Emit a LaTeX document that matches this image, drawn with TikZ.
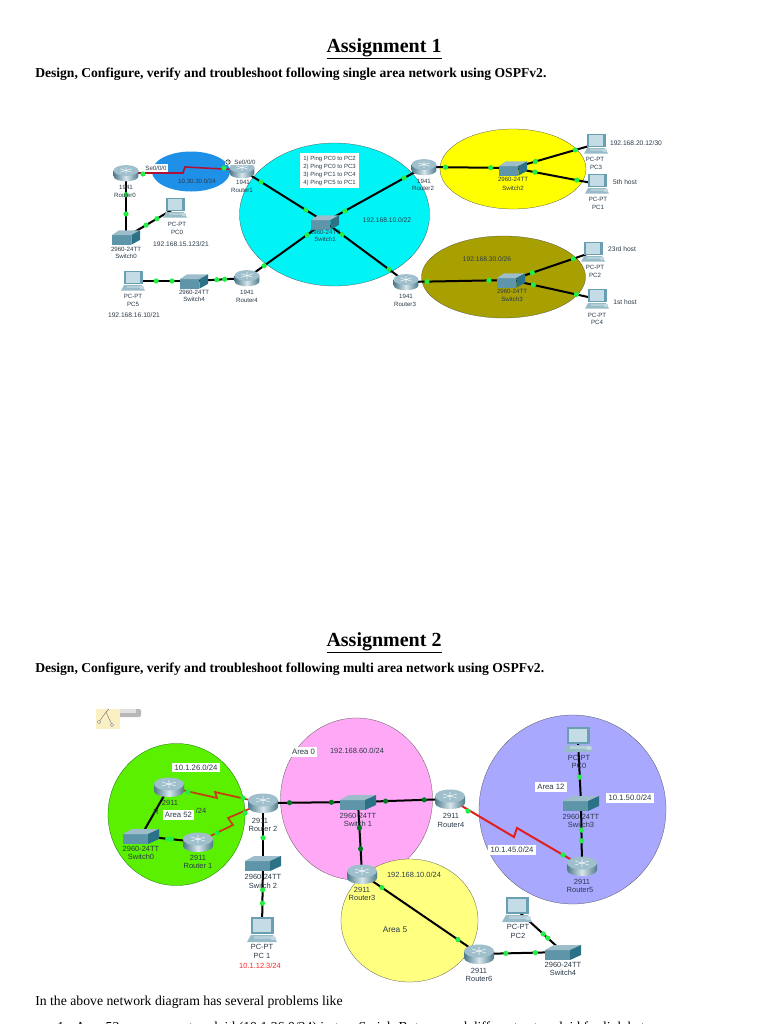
\documentclass[tikz,border=0pt]{standalone}
\usepackage{fontspec}
\setmainfont{Liberation Serif}
\setsansfont{Liberation Sans}
\definecolor{txtc}{HTML}{2B3A48}
\definecolor{rtop}{HTML}{9FBFCC}
\definecolor{rside}{HTML}{4E7A8B}
\definecolor{rmid}{HTML}{D6E6EB}
\definecolor{swtop}{HTML}{9CBDC9}
\definecolor{swfront}{HTML}{5F95A8}
\definecolor{swside}{HTML}{2C7287}
\definecolor{pcscr}{HTML}{C3DCE6}
\definecolor{pcfr}{HTML}{6A9FB1}
\definecolor{lnkdot}{HTML}{22EE44}
\definecolor{dkdotc}{HTML}{007A22}
\definecolor{cCyan}{HTML}{00F4F6}
\definecolor{cYellow}{HTML}{FFFF00}
\definecolor{cOlive}{HTML}{A8A000}
\definecolor{cSky}{HTML}{1E90E8}
\definecolor{cGreen}{HTML}{5BEF00}
\definecolor{cPink}{HTML}{FFA8F6}
\definecolor{cLilac}{HTML}{A8A8FF}
\definecolor{cPale}{HTML}{FFFF80}
\definecolor{cTan}{HTML}{FBEFC4}
\definecolor{serA}{HTML}{B01038}
\definecolor{serB}{HTML}{CC3A10}
\definecolor{serC}{HTML}{E02020}
\tikzset{
  netlink/.style={draw=black,line width=1.5pt},
  dot/.style={circle,fill=lnkdot,inner sep=0pt,minimum size=3.9pt},
  dkdot/.style={circle,fill=dkdotc,inner sep=0pt,minimum size=3.9pt},
  device/.style={inner sep=0pt,minimum size=1pt},
  la/.style={font=\sffamily\fontsize{4.6}{5}\selectfont,text=txtc,inner sep=0pt},
  lb/.style={font=\sffamily\fontsize{5.6}{6}\selectfont,text=txtc,inner sep=0pt},
  addr/.style={font=\sffamily\fontsize{5}{6}\selectfont,text=txtc,inner sep=0pt},
  tagbox/.style={font=\sffamily\fontsize{5.8}{6}\selectfont,text=txtc,fill=white,inner sep=1.6pt},
  title/.style={font=\bfseries\fontsize{15}{18}\selectfont,inner sep=0pt,text=black},
  subtitle/.style={font=\bfseries\fontsize{10.2}{12}\selectfont,inner sep=0pt,anchor=west,text=black},
  bodytext/.style={font=\fontsize{10.3}{12}\selectfont,inner sep=0pt},
  routericon/.pic={
    \shade[left color=rside,right color=rside,middle color=rmid] (-15,-3) -- (-15,4) arc[start angle=180,end angle=0,x radius=15,y radius=6] -- (15,-3) -- cycle;
    \fill[rtop] (0,-3) ellipse[x radius=15,y radius=6.5];
    \draw[white!85!rtop,line width=.4pt] (-7,-5) -- (7,-1) (-7,-1) -- (7,-5) (0,-7) -- (0,1);
  },
  switchicon/.pic={
    \fill[swfront] (-18,-2) -- (7,-2) -- (7,8) -- (-18,8) -- cycle;
    \fill[swtop] (-18,-2) -- (-9,-7) -- (18,-7) -- (7,-2) -- cycle;
    \fill[swside] (7,-2) -- (18,-7) -- (18,3) -- (7,8) -- cycle;
  },
  pcicon/.pic={
    \fill[pcfr!70!white] (-11,5) -- (11,5) -- (15,12) -- (-15,12) -- cycle;
    \fill[pcfr] (-11,-13) rectangle (12,4);
    \fill[pcscr] (-9,-11) rectangle (9,2);
    \fill[pcfr!50!white] (-8,6) rectangle (9,9);
    \fill[pcfr!40!white] (11,8) ellipse[x radius=3,y radius=2];
  },
  smallswitch/.style={xscale=.78,yscale=.95},
}
\newcommand{\link}[4]{\path[netlink] (#1.center) -- node[dot,pos=#3] (#1#2a) {} node[dot,pos=#4] (#1#2b) {} (#2.center);}
\newcommand{\linkdk}[4]{\path[netlink] (#1.center) -- node[dkdot,pos=#3] (#1#2a) {} node[dkdot,pos=#4] (#1#2b) {} (#2.center);}
\begin{document}
\begin{tikzpicture}[x=0.75pt,y=-0.75pt]
\useasboundingbox (0,0) rectangle (768,1024);
\fill[white] (0,0) rectangle (768,1024);
% titles
\node[title] (t1) at (384,49) {\underline{Assignment 1}};
\node[subtitle] (s1) at (35,74) {Design, Configure, verify and troubleshoot following single area network using OSPFv2.};
\node[title] (t2) at (384,643) {\underline{Assignment 2}};
\node[subtitle] (s2) at (35,669) {Design, Configure, verify and troubleshoot following multi area network using OSPFv2.};
\node[bodytext,anchor=west] (p1) at (35,1002) {In the above network diagram has several problems like};
\begin{scope}
\clip (0,1000) rectangle (768,1024);
\node[bodytext,anchor=base west] (p2) at (57,1031) {1.\hspace{6pt}Area 52 use same network id (10.1.26.0/24) in two Serial. But we need different network id for link between};
\end{scope}
% ---------- Assignment 1 devices
\node[device] (aR0) at (126,173) {};
\node[device] (aR1) at (242,170) {};
\node[device] (aR2) at (424,167) {};
\node[device] (aR3) at (406,282) {};
\node[device] (aR4) at (247,278) {};
\node[device] (aS0) at (126,237) {};
\node[device] (aS1) at (325,222) {};
\node[device] (aS2) at (513,168) {};
\node[device] (aS3) at (511,280) {};
\node[device] (aS4) at (194,281) {};
\node[device] (aP0) at (175,208) {};
\node[device] (aP1) at (597,184) {};
\node[device] (aP2) at (593,252) {};
\node[device] (aP3) at (596,144) {};
\node[device] (aP4) at (597,299) {};
\node[device] (aP5) at (133,281) {};
% clouds
\filldraw[fill=cCyan,draw=black!70,line width=.2pt] (334.5,214.5) ellipse[x radius=95,y radius=71.5];
\filldraw[fill=cYellow,draw=black!70,line width=.2pt] (513,169) ellipse[x radius=73,y radius=40];
\filldraw[fill=cOlive,draw=black!70,line width=.2pt] (503.5,277) ellipse[x radius=82,y radius=41];
\fill[cSky] (191,171.5) ellipse[x radius=39,y radius=20];
% serial
\coordinate (az1) at (183,173);
\coordinate (az2) at (185,167);
\draw[draw=serA,line width=1.2pt] (aR0.center) -- (az1) -- (az2) -- (aR1.center);
\node[dot] (azd1) at (143,174) {};
\node[dot] (azd2) at (224,168) {};
% links
\link{aR0}{aS0}{.34}{.64}
\link{aS0}{aP0}{.41}{.63}
\link{aR1}{aS1}{.23}{.77}
\link{aS1}{aR2}{.2}{.8}
\link{aR4}{aS1}{.22}{.77}
\link{aS1}{aR3}{.21}{.79}
\link{aP5}{aS4}{.38}{.64}
\link{aS4}{aR4}{.43}{.58}
\link{aR2}{aS2}{.24}{.75}
\link{aS2}{aP3}{.27}{.75}
\link{aS2}{aP1}{.26}{.76}
\link{aR3}{aS3}{.2}{.79}
\link{aS3}{aP2}{.26}{.76}
\link{aS3}{aP4}{.26}{.76}
% icons
\pic[scale=.83] at (aR0) {routericon};
\pic[scale=.83] at (aR1) {routericon};
\pic[scale=.83] at (aR2) {routericon};
\pic[scale=.83] at (aR3) {routericon};
\pic[scale=.83] at (aR4) {routericon};
\pic[smallswitch] at (aS0) {switchicon};
\pic[smallswitch] at (aS1) {switchicon};
\pic[smallswitch] at (aS2) {switchicon};
\pic[smallswitch] at (aS3) {switchicon};
\pic[smallswitch] at (aS4) {switchicon};
\pic[scale=.8] at (aP0) {pcicon};
\pic[scale=.8] at (aP1) {pcicon};
\pic[scale=.8] at (aP2) {pcicon};
\pic[scale=.8] at (aP3) {pcicon};
\pic[scale=.8] at (aP4) {pcicon};
\pic[scale=.8] at (aP5) {pcicon};
% labels A1
\node[la,fill=white,inner sep=1pt] (al1) at (156,168) {Se0/0/0};
\fill[white] (225,156) rectangle (262,165);
\draw[black,line width=.3pt] (228,162) circle[radius=2.3] (228,162) -- (228,160) (228,162) -- (229.5,162);
\node[la] (al2) at (245,162) {Se0/0/0};
\node[la] (al3) at (197,181) {10.30.30.0/24};
\node[la] (al4) at (126,187) {1941};
\node[la] (al5) at (125,195) {Router0};
\node[la] (al6) at (243,182) {1941};
\node[la] (al7) at (242,190) {Router1};
\node[la] (al8) at (177,224) {PC-PT};
\node[la] (al9) at (177,232) {PC0};
\node[addr] (al10) at (181,244) {192.168.15.123/21};
\node[la] (al11) at (126,249) {2960-24TT};
\node[la] (al12) at (126,256) {Switch0};
\node[la] (al13) at (325,232) {2960-24TT};
\node[la] (al14) at (325,239) {Switch1};
\node[addr] (al15) at (387,220) {192.168.10.0/22};
\node[la] (al16) at (133,296) {PC-PT};
\node[la] (al17) at (133,304) {PC5};
\node[addr] (al18) at (134,315) {192.168.16.10/21};
\node[la] (al19) at (194,292) {2960-24TT};
\node[la] (al20) at (194,299) {Switch4};
\node[la] (al21) at (247,292) {1941};
\node[la] (al22) at (247,300) {Router4};
\node[la] (al23) at (424,181) {1941};
\node[la] (al24) at (423,188) {Router2};
\node[la] (al25) at (513,179) {2960-24TT};
\node[la] (al26) at (513,188) {Switch2};
\node[addr] (al27) at (636,143) {192.168.20.12/30};
\node[la] (al28) at (595,159) {PC-PT};
\node[la] (al29) at (596,167) {PC3};
\node[addr] (al30) at (625,182) {5th host};
\node[la] (al31) at (598,199) {PC-PT};
\node[la] (al32) at (598,207) {PC1};
\node[addr] (al33) at (622,249) {23rd host};
\node[la] (al34) at (595,267) {PC-PT};
\node[la] (al35) at (595,275) {PC2};
\node[addr] (al36) at (625,302) {1st host};
\node[la] (al37) at (597,315) {PC-PT};
\node[la] (al38) at (597,322) {PC4};
\node[addr] (al39) at (487,259) {192.168.30.0/26};
\node[la] (al40) at (512,291) {2960-24TT};
\node[la] (al41) at (512,299) {Switch3};
\node[la] (al42) at (406,296) {1941};
\node[la] (al43) at (405,304) {Router3};
\node[font=\sffamily\fontsize{4.5}{6}\selectfont,text=txtc,fill=white,inner sep=2.2pt,align=left] (aping) at (329.5,170.5) {1) Ping PC0 to PC2\\2) Ping PC0 to PC3\\3) Ping PC1 to PC4\\4) Ping PC5 to PC1};
% ---------- Assignment 2 devices
\node[device] (bR0) at (169,787) {};
\node[device] (bR1) at (198,842) {};
\node[device] (bR2) at (263,803) {};
\node[device] (bR3) at (362,874) {};
\node[device] (bR4) at (450,799) {};
\node[device] (bR5) at (582,866) {};
\node[device] (bR6) at (479,954) {};
\node[device] (bS0) at (141,836) {};
\node[device] (bS1) at (358,802) {};
\node[device] (bS2) at (263,863) {};
\node[device] (bS3) at (581,803) {};
\node[device] (bS4) at (563,952) {};
\node[device] (bP0) at (578,740) {};
\node[device] (bP1) at (262,930) {};
\node[device] (bP2) at (517,910) {};
% tree tool icon
\fill[black!28,rounded corners=1pt] (118,709) rectangle (141,717);
\fill[black!12] (120,709) rectangle (136,713);
\fill[cTan] (96,709) rectangle (120,729);
\draw[black!55,line width=.3pt] (99,722) -- (106,712) -- (112,725) (106,712) -- (109,709);
\draw[black!55,fill=white,line width=.3pt] (99,722) circle[radius=1.6] (112,725) circle[radius=1.6];
% areas
\filldraw[fill=cGreen,draw=black!60!green,line width=.2pt] (176.5,814.5) ellipse[x radius=68.5,y radius=71];
\filldraw[fill=cPink,draw=black!70,line width=.2pt] (356.5,799) ellipse[x radius=76,y radius=81];
\filldraw[fill=cLilac,draw=black!70,line width=.2pt] (572.5,809.5) ellipse[x radius=93.5,y radius=94.5];
\filldraw[fill=cPale,draw=black!70,line width=.2pt] (409.5,920.5) ellipse[x radius=68.5,y radius=61.5];
% serial A2
\coordinate (bz1) at (217,798);
\coordinate (bz2) at (215,792);
\coordinate (bz3) at (233,825);
\coordinate (bz4) at (228,818);
\coordinate (bz5) at (514,837);
\coordinate (bz6) at (517,828);
\draw[draw=serB,line width=1.3pt] (bR0.center) -- (bz1) -- (bz2) -- (bR2.center);
\draw[draw=serB,line width=1.3pt] (bR1.center) -- (bz3) -- (bz4) -- (bR2.center);
\draw[draw=serC,line width=1.5pt] (bR4.center) -- (bz5) -- (bz6) -- (bR5.center);
\node[dot] (bzd1) at (188,792) {};
\node[dot] (bzd2) at (243,798) {};
\node[dot] (bzd3) at (217,833) {};
\node[dot] (bzd4) at (245,813) {};
\node[dot] (bzd5) at (468,811) {};
\node[dot] (bzd6) at (563,855) {};
% links A2
\draw[netlink] (bR0.center) -- (bS0.center);
\link{bS0}{bR1}{.47}{.53}
\linkdk{bR2}{bS1}{.28}{.72}
\linkdk{bS1}{bR4}{.3}{.72}
\linkdk{bS1}{bR3}{.36}{.65}
\draw[netlink] (bR2.center) -- node[dot,pos=.58] (bR2bS2a) {} (bS2.center);
\link{bS2}{bP1}{.4}{.6}
\link{bR3}{bR6}{.17}{.82}
\link{bR6}{bS4}{.32}{.67}
\link{bS4}{bP2}{.33}{.43}
\draw[netlink] (bP0.center) -- node[dot,pos=.59] (bP0bS3a) {} (bS3.center);
\link{bS3}{bR5}{.43}{.6}
% icons A2
\pic at (bR0) {routericon};
\pic at (bR1) {routericon};
\pic at (bR2) {routericon};
\pic at (bR3) {routericon};
\pic at (bR4) {routericon};
\pic at (bR5) {routericon};
\pic at (bR6) {routericon};
\pic at (bS0) {switchicon};
\pic at (bS1) {switchicon};
\pic at (bS2) {switchicon};
\pic at (bS3) {switchicon};
\pic at (bS4) {switchicon};
\pic at (bP0) {pcicon};
\pic at (bP1) {pcicon};
\pic at (bP2) {pcicon};
% labels A2
\node[lb] (bl1) at (170,803) {2911};
\node[lb] (bl2) at (156,812) {R};
\node[lb] (bl3) at (201,811) {/24};
\node[tagbox] (bl4) at (196,767.5) {10.1.26.0/24};
\node[tagbox] (bl5) at (178.5,815) {Area 52};
\node[tagbox] (bl6) at (303.5,752) {Area 0};
\node[lb] (bl7) at (357,751) {192.168.60.0/24};
\node[lb] (bl8) at (198,858) {2911};
\node[lb] (bl9) at (198,866) {Router 1};
\node[lb] (bl10) at (141,849) {2960-24TT};
\node[lb] (bl11) at (141,857) {Switch0};
\node[lb] (bl12) at (260,821) {2911};
\node[lb] (bl13) at (263,829) {Router 2};
\node[lb] (bl14) at (263,877) {2960-24TT};
\node[lb] (bl15) at (263,886) {Switch 2};
\node[lb] (bl16) at (262,947) {PC-PT};
\node[lb] (bl17) at (262,956) {PC 1};
\node[lb,text=red!85!white] (bl18) at (260,966) {10.1.12.3/24};
\node[lb] (bl19) at (358,816) {2960-24TT};
\node[lb] (bl20) at (358,824) {Switch 1};
\node[lb] (bl21) at (362,890) {2911};
\node[lb] (bl22) at (362,898) {Router3};
\node[lb] (bl23) at (451,816) {2911};
\node[lb] (bl24) at (451,825) {Router4};
\node[tagbox] (bl25) at (551,787) {Area 12};
\node[tagbox] (bl26) at (630,798) {10.1.50.0/24};
\node[lb] (bl27) at (579,758) {PC-PT};
\node[lb] (bl28) at (579,766) {PC0};
\node[lb] (bl29) at (581,817) {2960-24TT};
\node[lb] (bl30) at (581,825) {Switch3};
\node[tagbox] (bl31) at (512,850) {10.1.45.0/24};
\node[lb] (bl32) at (582,882) {2911};
\node[lb] (bl33) at (580,890) {Router5};
\node[lb] (bl34) at (414,875) {192.168.10.0/24};
\node[font=\sffamily\fontsize{6.2}{7}\selectfont,text=txtc,inner sep=0pt] (bl35) at (395,930) {Area 5};
\node[lb] (bl36) at (518,927) {PC-PT};
\node[lb] (bl37) at (518,936) {PC2};
\node[lb] (bl38) at (479,971) {2911};
\node[lb] (bl39) at (479,979) {Router6};
\node[lb] (bl40) at (563,965) {2960-24TT};
\node[lb] (bl41) at (563,973) {Switch4};
\end{tikzpicture}
\end{document}
